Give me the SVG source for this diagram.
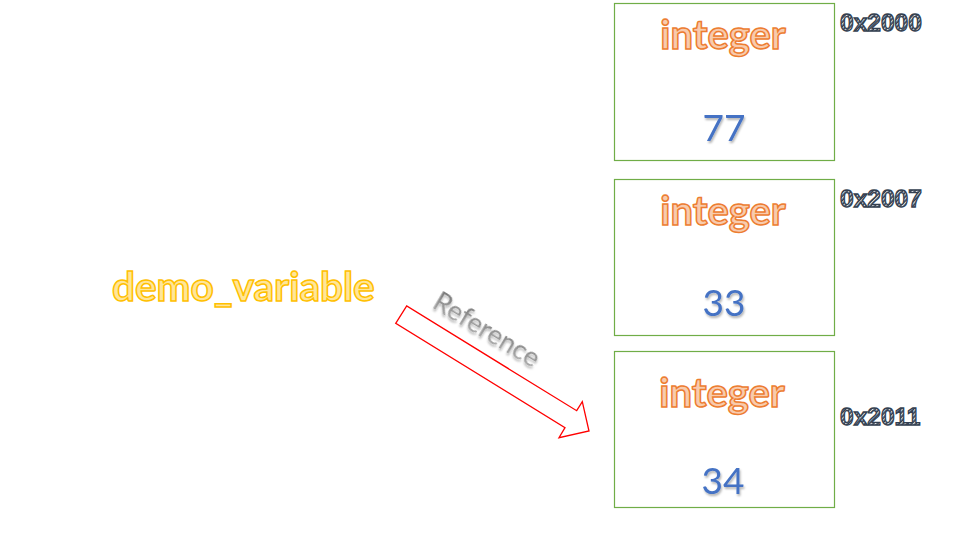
<svg xmlns="http://www.w3.org/2000/svg" width="958" height="555" viewBox="0 0 958 555">
<defs>
<linearGradient id="gray" x1="0" y1="0" x2="0" y2="1">
<stop offset="0" stop-color="#6b6b6b"/><stop offset="1" stop-color="#b5b5b5"/>
</linearGradient>
<pattern id="stripe" width="3" height="3" patternUnits="userSpaceOnUse" patternTransform="rotate(45)">
<rect width="3" height="3" fill="#333F50"/><rect width="1.3" height="3" fill="#ffffff" opacity="0.85"/>
</pattern>
<filter id="sh" x="-20%" y="-20%" width="140%" height="160%">
<feDropShadow dx="1" dy="2" stdDeviation="1.2" flood-color="#000" flood-opacity="0.3"/>
</filter>
</defs>
<style>
.box{fill:#fff;stroke:#70AD47;stroke-width:1.2}
.type{font-family:Lato,"Open Sans",sans-serif;font-size:40px;font-weight:bold;fill:#F8CBAD;stroke:#ED7D31;stroke-width:1.5;text-anchor:middle}
.val{font-family:Lato,"Open Sans",sans-serif;font-size:37px;fill:#4472C4;text-anchor:middle}
.addr{font-family:"Liberation Sans",sans-serif;font-size:24.5px;font-weight:bold;fill:url(#stripe);stroke:#333F50;stroke-width:1.3}
.var{font-family:Lato,"Open Sans",sans-serif;font-size:40.5px;font-weight:bold;fill:#FFE699;stroke:#FFC000;stroke-width:1.5}
.lbl{font-family:Lato,"Open Sans",sans-serif;font-size:27px;fill:url(#gray)}
</style>
<g id="node-2000">
<rect class="box" x="614.5" y="3.5" width="220" height="157"/>
<text class="type" x="723" y="49">integer</text>
<text class="val" x="724" y="141" filter="url(#sh)">77</text>
<text class="addr" x="840" y="31">0x2000</text>
</g>
<g id="node-2007">
<rect class="box" x="614.5" y="179.5" width="220" height="156"/>
<text class="type" x="723" y="225">integer</text>
<text class="val" x="724" y="316" filter="url(#sh)">33</text>
<text class="addr" x="840" y="207">0x2007</text>
</g>
<g id="node-2011">
<rect class="box" x="614.5" y="351.5" width="220" height="156"/>
<text class="type" x="722" y="407">integer</text>
<text class="val" x="723" y="494" filter="url(#sh)">34</text>
<text class="addr" x="840" y="425">0x2011</text>
</g>
<g id="node-var">
<text class="var" x="112" y="301">demo_variable</text>
</g>
<g id="connectors">
<polygon points="395.7,323.3 406.7,306 576.7,410.7 582.3,401.7 589,431 559,437.7 565,427.7" fill="#fff" stroke="#FF0000" stroke-width="1.3" stroke-linejoin="miter"/>
<text class="lbl" x="0" y="0" transform="translate(431,307) rotate(31)" filter="url(#sh)">Reference</text>
</g>
</svg>
